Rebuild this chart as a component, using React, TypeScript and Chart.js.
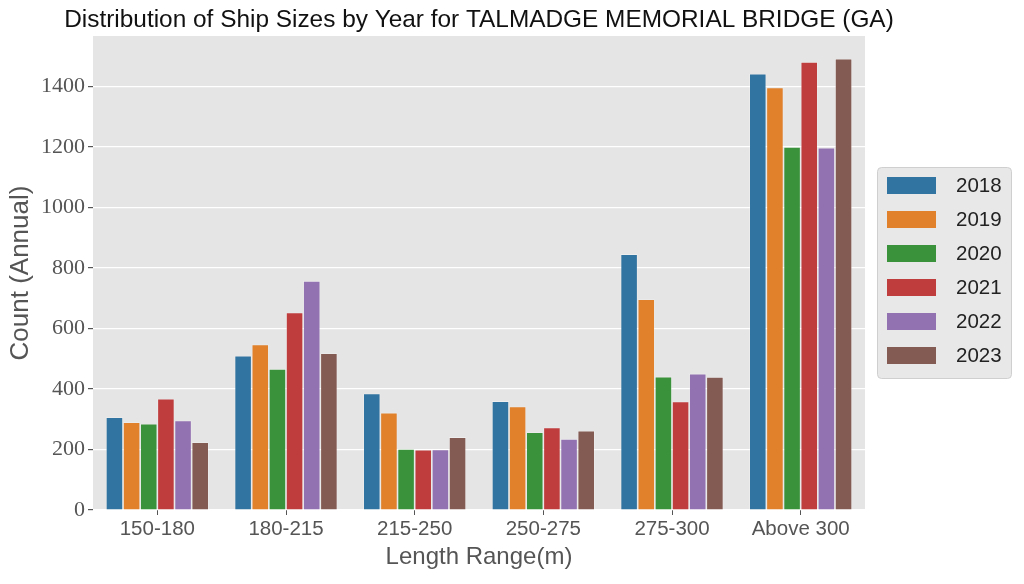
import React, { useEffect, useRef } from "react";
import { Chart, registerables } from "chart.js";

Chart.register(...registerables);

// Length ranges and annual ship counts per year
const lengthRanges = ["150-180", "180-215", "215-250", "250-275", "275-300", "Above 300"];
const years = ["2018", "2019", "2020", "2021", "2022", "2023"];
const counts2018 = [307, 510, 385, 360, 846, 1442];
const counts2019 = [290, 547, 322, 342, 697, 1397];
const counts2020 = [285, 466, 202, 257, 441, 1200];
const counts2021 = [368, 653, 199, 273, 359, 1481];
const counts2022 = [296, 757, 200, 235, 451, 1198];
const counts2023 = [224, 518, 241, 262, 440, 1492];
const yearColors = ["#3274a1", "#e1812c", "#3a923a", "#c03d3e", "#9372b2", "#845b53"];
const yTickValues = [0, 200, 400, 600, 800, 1000, 1200, 1400];
const yMax = 1567;

const titleText = "Distribution of Ship Sizes by Year for TALMADGE MEMORIAL BRIDGE (GA)";
const sansFont = "'Liberation Sans', 'DejaVu Sans', sans-serif";
const serifFont = "'Liberation Serif', 'DejaVu Serif', serif";

// Grey panel behind the plot area
const panelBackground = {
  id: "panelBackground",
  beforeDraw(chart: any) {
    const { ctx, chartArea } = chart;
    ctx.save();
    ctx.fillStyle = "#e5e5e5";
    ctx.fillRect(chartArea.left, chartArea.top, chartArea.right - chartArea.left, chartArea.bottom - chartArea.top);
    ctx.restore();
  },
};

// Title centred over the plot area, and a boxed legend to the right of it
const titleAndLegend = {
  id: "titleAndLegend",
  afterDraw(chart: any) {
    const { ctx, chartArea } = chart;
    ctx.save();
    ctx.fillStyle = "#111";
    ctx.font = `24.4px ${sansFont}`;
    ctx.textAlign = "center";
    ctx.textBaseline = "middle";
    ctx.fillText(titleText, (chartArea.left + chartArea.right) / 2, 20);

    const boxX = 877;
    const boxY = 167;
    const boxW = 134;
    const boxH = 211;
    ctx.fillStyle = "#e8e8e8";
    ctx.strokeStyle = "#cfcfcf";
    ctx.lineWidth = 1;
    ctx.beginPath();
    ctx.roundRect(boxX + 0.5, boxY + 0.5, boxW, boxH, 4);
    ctx.fill();
    ctx.stroke();

    ctx.font = `20.5px ${sansFont}`;
    ctx.textAlign = "left";
    chart.data.datasets.forEach((ds: any, i: number) => {
      const cy = 185.5 + i * 34;
      ctx.fillStyle = ds.backgroundColor;
      ctx.fillRect(887, cy - 8.5, 49, 17);
      ctx.fillStyle = "#222";
      ctx.fillText(ds.label, 956, cy + 1);
    });
    ctx.restore();
  },
};

export default function App() {
  const canvasRef = useRef<HTMLCanvasElement | null>(null);

  useEffect(() => {
    if (!canvasRef.current) return;
    const series = [counts2018, counts2019, counts2020, counts2021, counts2022, counts2023];
    const chart = new Chart(canvasRef.current, {
      type: "bar",
      data: {
        labels: lengthRanges,
        datasets: years.map((year, i) => ({
          label: year,
          data: series[i],
          backgroundColor: yearColors[i],
          borderColor: "rgba(255,255,255,0.35)",
          borderWidth: 0.8,
          categoryPercentage: 0.8,
          barPercentage: 1.0,
        })),
      },
      options: {
        animation: false,
        responsive: false,
        maintainAspectRatio: false,
        layout: { padding: { top: 36, right: 159, left: 0, bottom: 0 } },
        plugins: {
          legend: { display: false },
          title: { display: false },
          tooltip: { enabled: false },
        },
        scales: {
          x: {
            afterFit(scale: any) {
              scale.height = 74;
            },
            grid: {
              offset: false,
              drawOnChartArea: false,
              drawTicks: true,
              tickLength: 5,
              tickColor: "#555",
            },
            border: { display: false },
            ticks: {
              color: "#555",
              padding: 2,
              font: { family: sansFont, size: 20.5 },
            },
            title: {
              display: true,
              text: "Length Range(m)",
              color: "#555",
              font: { family: sansFont, size: 24 },
              padding: { top: 0, bottom: 12 },
            },
          },
          y: {
            min: 0,
            max: yMax,
            afterFit(scale: any) {
              scale.width = 93;
            },
            afterBuildTicks(scale: any) {
              scale.ticks = yTickValues.map((v) => ({ value: v }));
            },
            grid: {
              color: "#ffffff",
              lineWidth: 1.2,
              drawTicks: true,
              tickLength: 5,
              tickColor: "#555",
            },
            border: { display: false },
            ticks: {
              color: "#555",
              padding: 3,
              font: { family: serifFont, size: 22 },
              callback: (value: any) => String(value),
            },
            title: {
              display: true,
              text: "Count (Annual)",
              color: "#555",
              font: { family: sansFont, size: 26 },
              padding: { top: 5, bottom: 0 },
            },
          },
        },
      },
      plugins: [panelBackground, titleAndLegend],
    });
    return () => chart.destroy();
  }, []);

  return (
    <div style={{ position: "absolute", left: 0, top: 0, width: 1024, height: 584, background: "#fff" }}>
      <canvas ref={canvasRef} width={1024} height={584} style={{ width: 1024, height: 584, display: "block" }} />
    </div>
  );
}
